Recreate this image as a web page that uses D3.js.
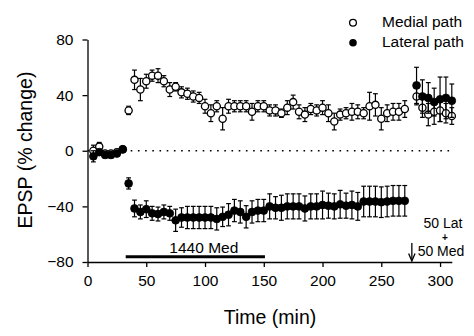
<!DOCTYPE html>
<html>
<head>
<meta charset="utf-8">
<script src="https://cdn.jsdelivr.net/npm/d3@7"></script>
<style>
  body { margin: 0; background: #fff; }
  svg { font-family: "Liberation Sans", Arial, sans-serif; }
</style>
</head>
<body>
<svg id="chart" width="474" height="336"></svg>
<script>
// sampling times (min) for both pathways
var times = [5, 10, 15, 20, 25, 30,
  35, 40, 45, 50, 55, 60, 65, 70, 75, 80, 85, 90, 95, 100,
  105, 110, 115, 120, 125, 130, 135, 140, 145, 150, 155, 160, 165, 170, 175, 180,
  185, 190, 195, 200, 205, 210, 215, 220, 225, 230, 235, 240, 245, 250,
  255, 260, 265, 270,
  280, 285, 290, 295, 300, 305, 310];

// medial path EPSP (% change) and SEM
var medial = [0, 3, -2, -2, -1, 1,
  29, 51, 44, 50, 54, 54, 50, 44, 46, 42, 41, 39, 38, 32,
  27, 32, 23, 32, 32, 32, 32, 28, 32, 32, 29, 29, 27, 31, 35, 28,
  26, 30, 29, 31, 27, 21, 26, 27, 28, 28, 27, 32, 33, 23,
  27, 28, 28, 30,
  39, 31, 26, 28, 29, 27, 25];
var medialErr = [4, 3, 2, 2, 2, 2,
  3, 7, 8, 5, 4, 5, 4, 5, 3, 4, 4, 4, 4, 5,
  6, 4, 8, 5, 4, 4, 4, 6, 4, 4, 4, 4, 3, 5, 5, 5,
  5, 4, 4, 5, 6, 6, 4, 4, 6, 5, 4, 10, 8, 8,
  6, 6, 6, 6,
  6, 7, 8, 9, 8, 7, 6];

// lateral path EPSP (% change) and SEM
var lateral = [-4, -1, -3, -3, -2, 1,
  -23.5, -41.5, -44, -42, -45, -45.5, -44, -45, -50, -48, -48, -48, -48, -48,
  -48, -49, -47.5, -46, -43, -44, -47.5, -44, -43, -43, -40, -41, -41, -40, -40, -40,
  -41.5, -40, -40, -39, -39.5, -40, -38.5, -39.5, -39, -40, -36.5, -36.5, -36.5, -37,
  -36.5, -36, -36, -36,
  47, 39, 38, 35, 37, 38, 36];
var lateralErr = [4, 2, 2, 2, 2, 2,
  4, 6, 5, 6, 5, 5, 5, 5, 8, 7, 8, 8, 8, 8,
  8, 8, 7, 8, 8, 8, 8, 8, 8, 8, 9, 8, 9, 9, 9, 9,
  9, 9, 9, 10, 9, 9, 10, 9, 10, 10, 11, 11, 11, 11,
  11, 11, 11, 11,
  13, 12, 11, 10, 16, 15, 12];

var xTicks = [0, 50, 100, 150, 200, 250, 300];
var yTicks = [-80, -40, 0, 40, 80];

var svg = d3.select("#chart");

var x = d3.scaleLinear().domain([0, 310]).range([87.5, 451.8]);
var y = d3.scaleLinear().domain([-80, 80]).range([262, 39.5]);

// zero line
svg.append("line")
  .attr("x1", x(0)).attr("x2", x(310))
  .attr("y1", y(0)).attr("y2", y(0))
  .attr("stroke", "#000")
  .attr("stroke-width", 1.6)
  .attr("stroke-dasharray", "1.6,5.6");

// axes
var xAxis = svg.append("g")
  .attr("transform", "translate(0," + y(-80) + ")")
  .call(d3.axisBottom(x).tickValues(xTicks).tickSize(5).tickPadding(8).tickSizeOuter(0));
var yAxis = svg.append("g")
  .attr("transform", "translate(" + x(0) + ",0)")
  .call(d3.axisLeft(y).tickValues(yTicks).tickSize(5).tickPadding(9).tickSizeOuter(0));

[xAxis, yAxis].forEach(function(a){
  a.select(".domain").attr("stroke-width", 1.3);
  a.selectAll(".tick line").attr("stroke-width", 1.3);
  a.selectAll(".tick text")
    .attr("font-size", 15.5)
    .attr("font-family", "Liberation Sans, Arial, sans-serif")
    .attr("fill", "#000");
});

// axis titles
svg.append("text")
  .attr("x", 270).attr("y", 324)
  .attr("text-anchor", "middle")
  .attr("font-size", 19.5)
  .text("Time (min)");
svg.append("text")
  .attr("transform", "translate(31.5,150) rotate(-90)")
  .attr("text-anchor", "middle")
  .attr("font-size", 19.5)
  .text("EPSP (% change)");

// treatment bar
svg.append("line")
  .attr("x1", x(32.5)).attr("x2", x(151))
  .attr("y1", 256.7).attr("y2", 256.7)
  .attr("stroke", "#000").attr("stroke-width", 3);
svg.append("text")
  .attr("x", x(99)).attr("y", 253)
  .attr("text-anchor", "middle")
  .attr("font-size", 15.5)
  .text("1440 Med");

// arrow at 276 min
var ax = x(276);
svg.append("line")
  .attr("x1", ax).attr("x2", ax)
  .attr("y1", 243).attr("y2", 259)
  .attr("stroke", "#000").attr("stroke-width", 1.3);
svg.append("path")
  .attr("d", "M" + (ax - 3.2) + ",253.5 L" + ax + ",261 L" + (ax + 3.2) + ",253.5")
  .attr("fill", "none").attr("stroke", "#000").attr("stroke-width", 1.3);

var note = svg.append("g").attr("font-size", 14).attr("text-anchor", "middle");
note.append("text").attr("x", 443).attr("y", 228).text("50 Lat");
note.append("text").attr("x", 445).attr("y", 240.5).attr("font-weight", "bold").attr("font-size", 10).text("+");
note.append("text").attr("x", 441).attr("y", 256).text("50 Med");

// error bars + markers
function drawSeries(vals, errs, open) {
  var pts = times.map(function(t, i){ return {t: t, v: vals[i], e: errs[i]}; });
  var g = svg.append("g");
  var bars = g.selectAll(".eb").data(pts).enter().append("g")
    .attr("stroke", "#000").attr("stroke-width", 1.2);
  bars.append("line")
    .attr("x1", function(d){ return x(d.t); })
    .attr("x2", function(d){ return x(d.t); })
    .attr("y1", function(d){ return y(d.v + d.e); })
    .attr("y2", function(d){ return y(d.v - d.e); });
  [1, -1].forEach(function(s){
    bars.append("line")
      .attr("x1", function(d){ return x(d.t) - 2.4; })
      .attr("x2", function(d){ return x(d.t) + 2.4; })
      .attr("y1", function(d){ return y(d.v + s * d.e); })
      .attr("y2", function(d){ return y(d.v + s * d.e); });
  });
  g.selectAll("circle").data(pts).enter().append("circle")
    .attr("cx", function(d){ return x(d.t); })
    .attr("cy", function(d){ return y(d.v); })
    .attr("r", open ? 3.6 : 3.9)
    .attr("fill", open ? "#fff" : "#000")
    .attr("stroke", "#000")
    .attr("stroke-width", open ? 1.3 : 0.8);
}
drawSeries(medial, medialErr, true);
drawSeries(lateral, lateralErr, false);

// legend
var legend = svg.append("g").attr("font-size", 15.5);
legend.append("circle").attr("cx", 353).attr("cy", 22.7).attr("r", 3.4)
  .attr("fill", "#fff").attr("stroke", "#000").attr("stroke-width", 1.3);
legend.append("circle").attr("cx", 353).attr("cy", 42.7).attr("r", 3.8).attr("fill", "#000");
legend.append("text").attr("x", 382).attr("y", 27).text("Medial path");
legend.append("text").attr("x", 382).attr("y", 46.5).text("Lateral path");
</script>
</body>
</html>
